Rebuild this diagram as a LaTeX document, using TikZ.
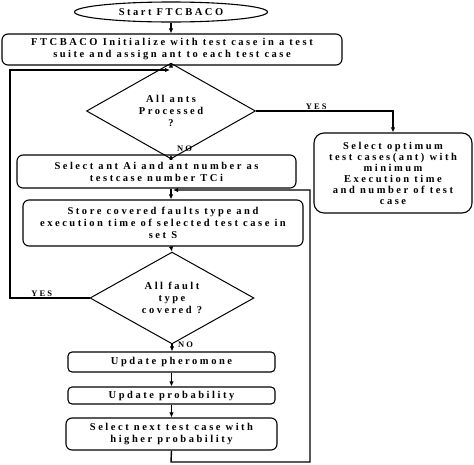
\documentclass[tikz,border=0pt]{standalone}
\usepackage{fontspec}
\setmainfont{Liberation Serif}[LetterSpace=24]
\usetikzlibrary{shapes.geometric,arrows.meta}
\begin{document}
\begin{tikzpicture}[x=1pt,y=-1pt,
  every node/.style={font=\fontsize{10.5}{12}\selectfont\bfseries, align=center, inner sep=0pt},
  box/.style={draw, line width=1.1pt, rounded corners=6pt},
  dia/.style={draw, line width=1pt, diamond},
  arr/.style={line width=1.4pt, -{Latex[length=5pt,width=4.5pt]}},
  lbl/.style={font=\fontsize{8.5}{9}\selectfont\bfseries}]
\useasboundingbox (0,0) rectangle (474,464);
\node[draw, line width=1.1pt, ellipse, minimum width=193pt, minimum height=20pt] (start) at (171,12) {Start FTCBACO};
\node[box, minimum width=340pt, minimum height=31pt] (b1) at (172,49.5) {FTCBACO Initialize with test case in a test\\suite and assign ant to each test case};
\node[dia, minimum width=169pt, minimum height=66pt] (d1) at (171,111) {All ants\\Processed\\?};
\node[box, rounded corners=10pt, minimum width=158pt, minimum height=80pt, font=\fontsize{10.5}{11}\selectfont\bfseries] (r) at (393,173) {Select optimum\\test cases(ant) with\\minimum\\Execution time\\and number of test\\case};
\node[box, minimum width=279pt, minimum height=33pt] (b2) at (156.5,171.5) {Select ant Ai and ant number as\\testcase number TCi};
\node[box, minimum width=280pt, minimum height=46pt] (b3) at (163,223) {Store covered faults type and\\execution time of selected test case in\\set S};
\node[dia, minimum width=164pt, minimum height=77pt] (d2) at (172,298) {All fault\\type\\covered ?};
\node[box, rounded corners=4pt, minimum width=207pt, minimum height=20pt] (b4) at (171.5,362) {Update pheromone};
\node[box, rounded corners=4pt, minimum width=207pt, minimum height=17pt] (b5) at (171.5,395.5) {Update probability};
\node[box, minimum width=211pt, minimum height=32pt] (b6) at (171.5,434) {Select next test case with\\higher probability};
\coordinate (j1) at (171,70);
\coordinate (j2) at (171,190);
\coordinate (c1) at (10,298);
\coordinate (c2) at (10,70);
\coordinate (c3) at (171,462);
\coordinate (c4) at (310,462);
\coordinate (c5) at (310,190);
\draw[arr] (start.south) -- (b1.north -| start.south);
\draw[arr] (b1.south -| start.south) -- (d1.north);
\draw[arr] (d1.east) -| (r.north) node[lbl, pos=0.22, above=1pt] {YES};
\draw[arr] (d1.south) -- (b2.north -| d1.south);
\node[lbl, anchor=west] (no1) at (177,148.5) {NO};
\draw[arr] (b2.south -| d1.south) -- (b3.north -| d1.south);
\draw[arr] (b3.south -| d1.south) -- (d2.north);
\draw[arr] (d2.south) -- (b4.north -| d2.south);
\node[lbl, anchor=west] (no2) at (178,344.5) {NO};
\draw[arr] (b4.south) -- (b5.north);
\draw[arr] (b5.south) -- (b6.north);
\draw[arr] (d2.west) -- (c1) node[lbl, pos=0.6, above=1pt] {YES} -- (c2) -- ([xshift=-1pt]j1);
\draw[arr] (b6.south) -- (c3) -- (c4) -- (c5) -- ([xshift=2pt]j2);
\end{tikzpicture}
\end{document}
